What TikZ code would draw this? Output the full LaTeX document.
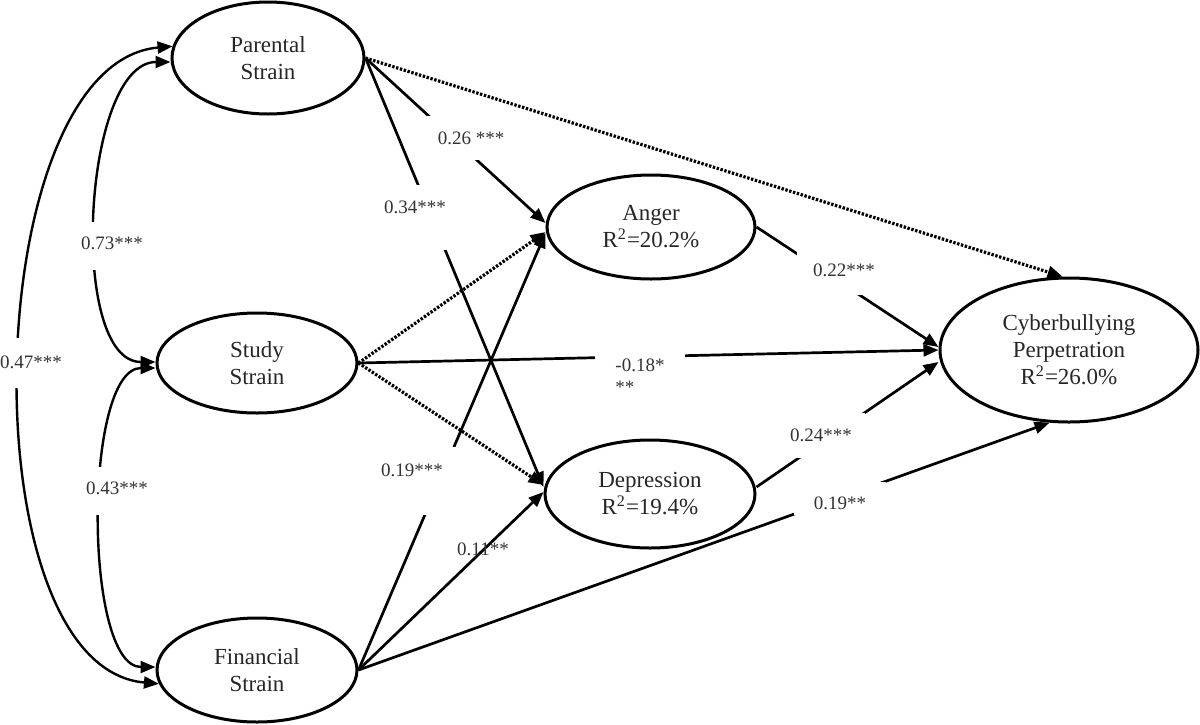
\documentclass[tikz,border=0pt]{standalone}
\usepackage{fontspec}
\setmainfont{Liberation Serif}
\usetikzlibrary{shapes.geometric,arrows.meta}
\begin{document}
\begin{tikzpicture}[x=0.5pt,y=-0.5pt,
  latent/.style={ellipse, draw, line width=1.5pt, inner sep=0pt, align=center,
    font=\fontsize{11.5}{13.5}\selectfont, text=black!85},
  arr/.style={line width=1.35pt, -{Triangle[length=7.5pt,width=6pt]}},
  dotarr/.style={arr, line width=1.6pt, dash pattern=on 1.2pt off 0.8pt},
  cov/.style={line width=1.2pt, {Triangle[length=7.5pt,width=6pt]}-{Triangle[length=7.5pt,width=6pt]}},
  lab/.style={font=\fontsize{9.5}{11}\selectfont, text=black!80, inner ysep=0pt, inner xsep=2pt, anchor=base},
  gap/.style={fill=white}]
\useasboundingbox (0,0) rectangle (1200,724);

% latent variables
\node[latent, minimum width=96pt, minimum height=56pt] (P) at (268,58) {Parental\\Strain};
\node[latent, minimum width=100pt, minimum height=50pt] (S) at (257,363) {Study\\Strain};
\node[latent, minimum width=100pt, minimum height=52pt] (F) at (257,670) {Financial\\Strain};
\node[latent, minimum width=104pt, minimum height=52pt] (A) at (651,227) {Anger\\R\textsuperscript{2}=20.2\%};
\node[latent, minimum width=105pt, minimum height=54pt] (D) at (650,494) {Depression\\R\textsuperscript{2}=19.4\%};
\node[latent, minimum width=129pt, minimum height=72pt] (C) at (1069,350) {Cyberbullying\\Perpetration\\R\textsuperscript{2}=26.0\%};

% paths
\draw[arr] (P.east) -- ([yshift=2pt]A.west);
\draw[arr] (P.east) -- ([yshift=3.5pt]D.west);
\draw[dotarr] (P.east) -- (C.95);
\draw[dotarr] (S.east) -- ([yshift=-2.5pt]A.west);
\draw[dotarr] (S.east) -- ([yshift=4.5pt]D.west);
\draw[arr] (S.east) -- (C.west);
\draw[arr] (F.east) -- ([yshift=-3pt]A.west);
\draw[arr] (F.east) -- ([yshift=1pt]D.west);
\draw[arr] (F.east) -- (C.-105);
\draw[arr] (A.east) -- ([yshift=1.5pt]C.west);
\draw[arr] ([yshift=3.5pt]D.east) -- ([yshift=-6pt]C.west);

% covariances
\draw[cov] ([yshift=-2pt]P.west) to[out=180,in=180,looseness=0.75] ([yshift=0.5pt]S.west);
\draw[cov] (P.173) to[out=185,in=175,looseness=0.78] (F.188);
\draw[cov] ([yshift=-2.5pt]S.west) to[out=180,in=180,looseness=0.62] ([yshift=1.5pt]F.west);

% labels
\node[lab, gap, text height=13.5pt, text depth=10.5pt] (l73) at (112,249) {0.73***};
\node[lab, gap, text height=15pt, text depth=10pt] (l47) at (31,368) {0.47***};
\node[lab, gap, text height=13.5pt, text depth=10.5pt] (l43) at (117,494) {0.43***};
\node[lab, gap, text height=14pt, text depth=8pt, inner xsep=6pt] (l26) at (471,144) {0.26 ***};
\node[lab, gap, text height=14pt, text depth=18.5pt] (l34) at (415,213) {0.34***};
\node[lab, gap, text height=14.5pt, text depth=19.5pt, inner xsep=7pt] (l19a) at (412,476) {0.19***};
\node[lab] (l11) at (483,555) {0.11**};
\node[lab, gap, text height=10pt, text depth=14pt, inner xsep=10.25pt] (l18) at (640,371)
  {\begin{tabular}[t]{@{}l@{}}-0.18*\\{}**\end{tabular}};
\node[lab, gap, text height=12pt, text depth=9.5pt, inner xsep=8pt] (l22) at (844,276) {0.22***};
\node[lab, gap, text height=14pt, text depth=8.5pt, inner xsep=6.5pt] (l24) at (821,441) {0.24***};
\node[lab, gap, text height=13.5pt, text depth=3pt, inner xsep=10pt] (l19b) at (840,509) {0.19**};
\end{tikzpicture}
\end{document}
